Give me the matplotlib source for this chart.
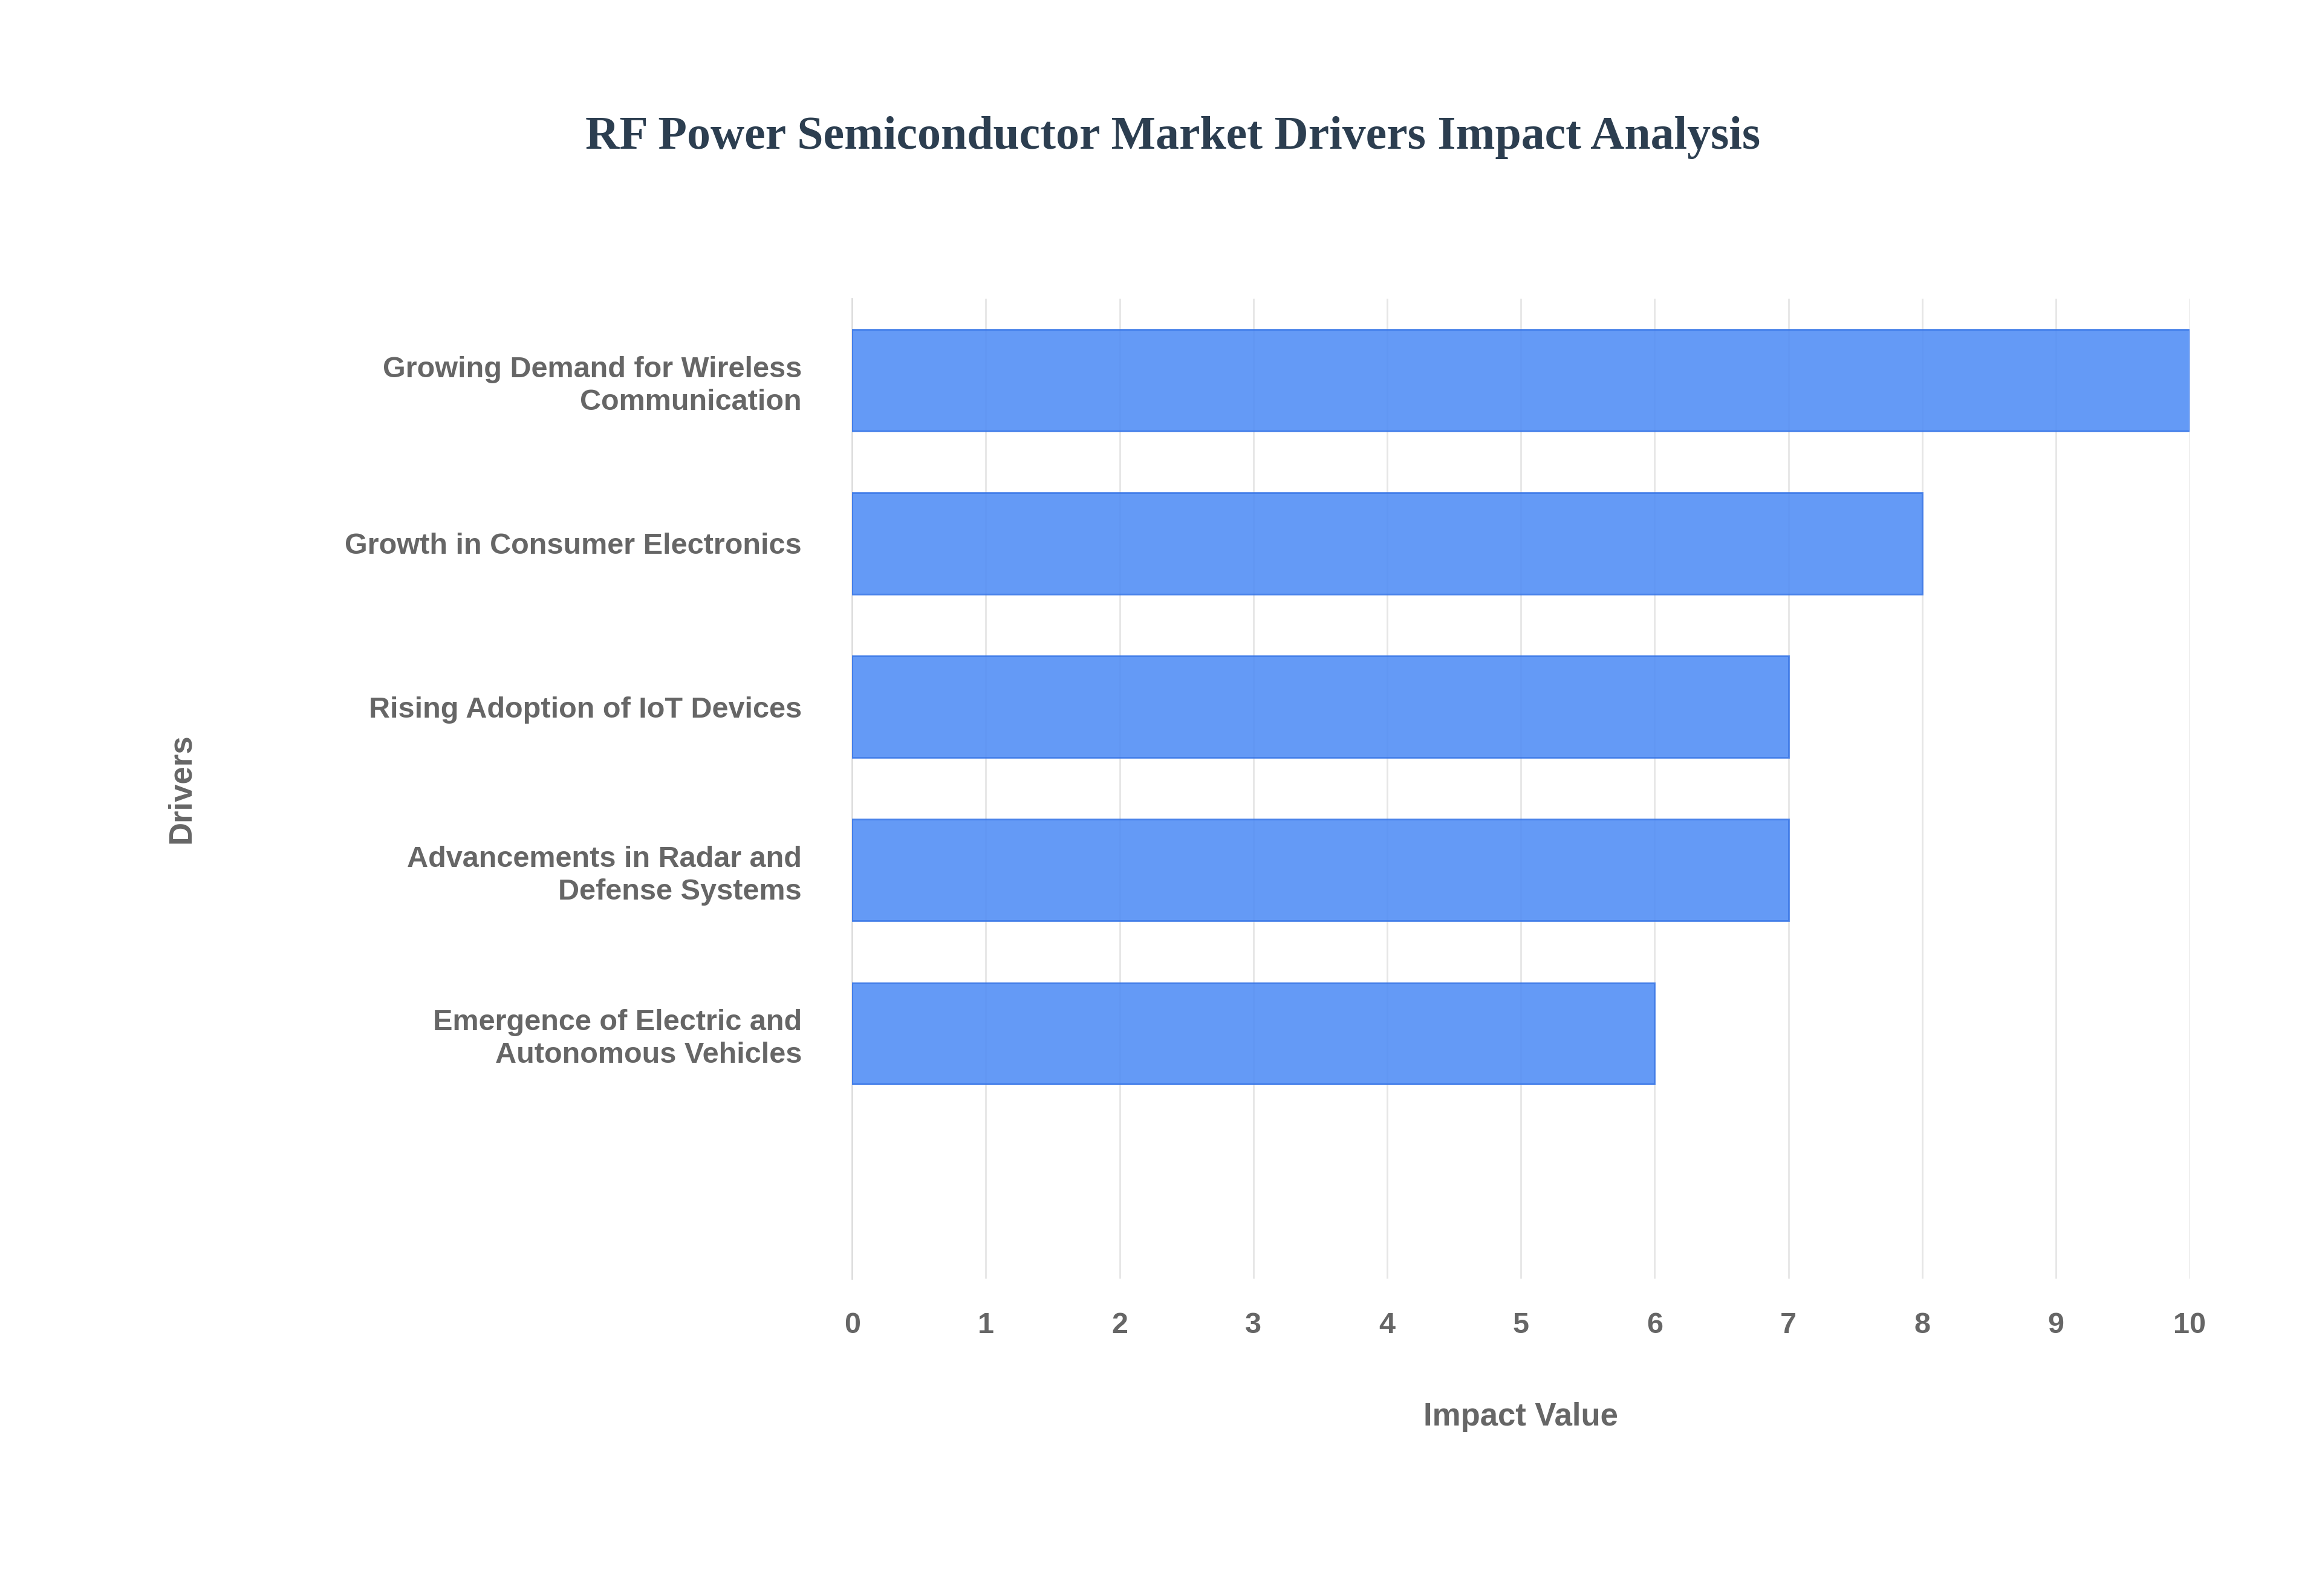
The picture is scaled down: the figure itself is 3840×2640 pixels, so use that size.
import matplotlib.pyplot as plt
import numpy as np

# 数据
drivers = ["Growing Demand for Wireless\nCommunication",
           "Growth in Consumer Electronics",
           "Rising Adoption of IoT Devices",
           "Advancements in Radar and\nDefense Systems",
           "Emergence of Electric and\nAutonomous Vehicles"]
impact = [10, 8, 7, 7, 6]
x_ticks = list(range(0, 11))

plt.rcParams['font.family'] = ['Liberation Sans', 'DejaVu Sans']

fig = plt.figure(figsize=(38.4, 26.4), dpi=100)
ax = fig.add_axes([0.367, 0.199, 0.576, 0.614])

y = np.arange(len(drivers))
ax.barh(y, impact, height=0.62, color='#4F8CF5', alpha=0.88,
        edgecolor='#3B78E7', linewidth=2, zorder=3)

ax.set_ylim(5.5, -0.5)
ax.set_xlim(0, 10)
ax.set_xticks(x_ticks)
ax.set_yticks(y)
ax.set_yticklabels(drivers, fontsize=35, fontweight='bold', color='#666666',
                   linespacing=1.25)
ax.set_xticklabels([str(t) for t in x_ticks], fontsize=35, fontweight='bold', color='#666666')
ax.tick_params(length=0, pad=40)
ax.tick_params(axis='y', pad=60)

ax.grid(axis='x', color='#e6e6e6', linewidth=2, zorder=0)
for s in ['top', 'right', 'bottom']:
    ax.spines[s].set_visible(False)
ax.spines['left'].set_color('#dddddd')
ax.spines['left'].set_linewidth(2)

ax.set_xlabel('Impact Value', fontsize=38, fontweight='bold', color='#666666', labelpad=75)
ax.set_ylabel('Drivers', fontsize=38, fontweight='bold', color='#666666')
ax.yaxis.set_label_coords(-0.49, 0.5)

fig.text(0.505, 0.914, 'RF Power Semiconductor Market Drivers Impact Analysis',
         ha='center', va='center', fontsize=56, fontweight='bold',
         color='#2c3e50', family=['Liberation Serif', 'DejaVu Serif'])

fig.savefig('out.png', dpi=100, facecolor='white')
